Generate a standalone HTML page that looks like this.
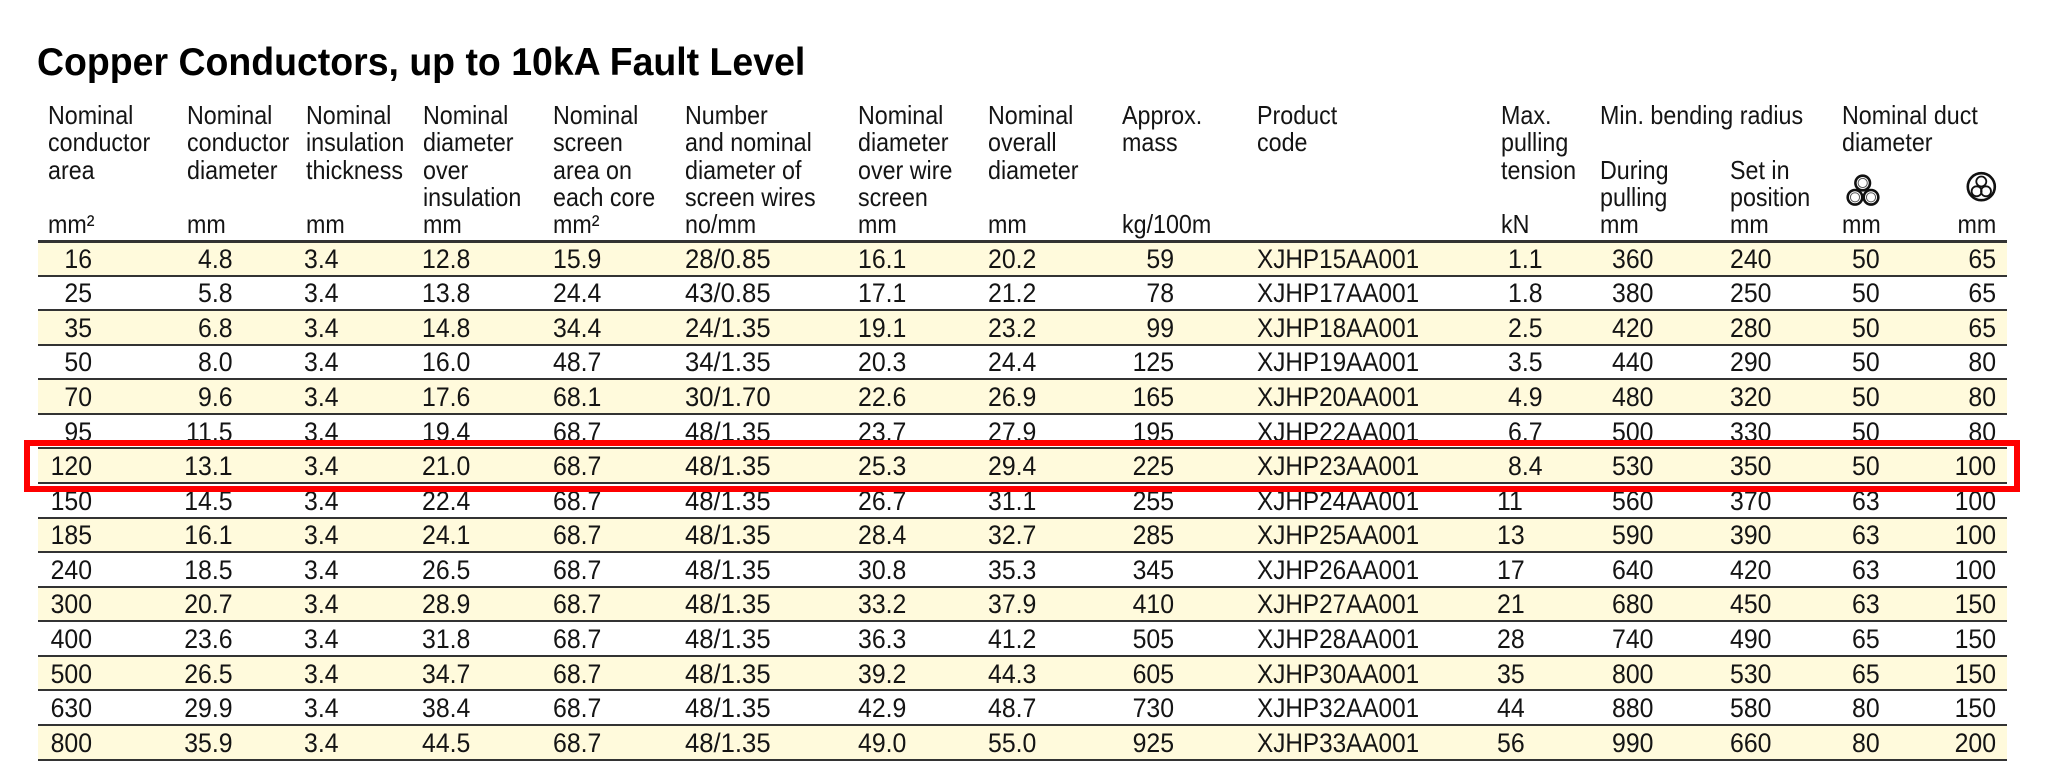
<!DOCTYPE html>
<html>
<head>
<meta charset="utf-8">
<style>
html,body{margin:0;padding:0;background:#fff;}
body{width:2048px;height:782px;position:relative;overflow:hidden;font-family:"Liberation Sans",Arial,sans-serif;color:#141414;}
.title{position:absolute;left:37px;top:42.5px;font-size:39px;line-height:39px;font-weight:bold;color:#000;white-space:nowrap;transform:scaleX(.96);transform-origin:0 0;}
.h{position:absolute;top:102.4px;font-size:26px;line-height:27.1px;white-space:nowrap;transform:scaleX(.895);transform-origin:0 0;}
.hr{transform-origin:100% 0;}
.r{position:absolute;left:0;width:2048px;height:34.57px;}
.y{background:linear-gradient(to right,transparent 38px,#fffadc 38px,#fffadc 2007px,transparent 2007px);}
.r span{position:absolute;top:4.8px;font-size:27px;line-height:27px;white-space:nowrap;transform:scaleX(.92);transform-origin:0 0;}
.r span:nth-child(1){right:1956px;transform-origin:100% 0;}
.r span:nth-child(2){right:1815px;transform-origin:100% 0;}
.r span:nth-child(3){left:304px;}
.r span:nth-child(4){left:422px;}
.r span:nth-child(5){left:553px;}
.r span:nth-child(6){left:685px;transform:scaleX(.95);}
.r span:nth-child(7){left:858px;}
.r span:nth-child(8){left:988px;}
.r span:nth-child(9){right:874px;transform-origin:100% 0;}
.r span:nth-child(10){left:1257px;transform:scaleX(.9);}
.r span:nth-child(11){left:1508px;}
.r span.i{left:1497px;}
.r span:nth-child(12){left:1612px;}
.r span:nth-child(13){left:1730px;}
.r span:nth-child(14){left:1852px;}
.r span:nth-child(15){right:52px;transform-origin:100% 0;}
.l{position:absolute;left:38px;width:1969px;height:2px;background:#333;}
.red{position:absolute;left:24px;top:440px;width:1996px;height:52px;border:6px solid #fe0000;box-sizing:border-box;z-index:5;}
svg{position:absolute;left:0;top:0;}
</style>
</head>
<body>
<div class="title">Copper Conductors, up to 10kA Fault Level</div>

<div class="h" style="left:48px">Nominal<br>conductor<br>area<br><br>mm²</div>
<div class="h" style="left:187px">Nominal<br>conductor<br>diameter<br><br>mm</div>
<div class="h" style="left:306px">Nominal<br>insulation<br>thickness<br><br>mm</div>
<div class="h" style="left:423px">Nominal<br>diameter<br>over<br>insulation<br>mm</div>
<div class="h" style="left:553px">Nominal<br>screen<br>area on<br>each core<br>mm²</div>
<div class="h" style="left:685px">Number<br>and nominal<br>diameter of<br>screen wires<br>no/mm</div>
<div class="h" style="left:858px">Nominal<br>diameter<br>over wire<br>screen<br>mm</div>
<div class="h" style="left:988px">Nominal<br>overall<br>diameter<br><br>mm</div>
<div class="h" style="left:1122px">Approx.<br>mass<br><br><br>kg/100m</div>
<div class="h" style="left:1257px">Product<br>code</div>
<div class="h" style="left:1501px">Max.<br>pulling<br>tension<br><br>kN</div>
<div class="h" style="left:1600px">Min. bending radius<br><br>During<br>pulling<br>mm</div>
<div class="h" style="left:1730px"><br><br>Set in<br>position<br>mm</div>
<div class="h" style="left:1842px">Nominal duct<br>diameter<br><br><br>mm</div>
<div class="h hr" style="right:52px;text-align:right"><br><br><br><br>mm</div>

<svg width="2048" height="782" viewBox="0 0 2048 782">
  <g fill="#fff" stroke="#111">
    <circle cx="1862.7" cy="183" r="7.3" stroke-width="2.6"/>
    <circle cx="1862.7" cy="183" r="4.6" stroke-width="1" fill="none" stroke="#555"/>
    <circle cx="1855" cy="197.3" r="7.3" stroke-width="2.6"/>
    <circle cx="1855" cy="197.3" r="4.6" stroke-width="1" fill="none" stroke="#555"/>
    <circle cx="1871" cy="197.3" r="7.3" stroke-width="2.6"/>
    <circle cx="1871" cy="197.3" r="4.6" stroke-width="1" fill="none" stroke="#555"/>
  </g>
  <g fill="none" stroke="#111">
    <circle cx="1981.3" cy="186.7" r="13.5" stroke-width="2.6"/>
    <circle cx="1981.3" cy="181.5" r="5" stroke-width="1.8"/>
    <circle cx="1976.6" cy="191.3" r="5" stroke-width="1.8"/>
    <circle cx="1986" cy="191.3" r="5" stroke-width="1.8"/>
  </g>
</svg>

<div class="r y" style="top:241px"><span>16</span><span>4.8</span><span>3.4</span><span>12.8</span><span>15.9</span><span>28/0.85</span><span>16.1</span><span>20.2</span><span>59</span><span>XJHP15AA001</span><span>1.1</span><span>360</span><span>240</span><span>50</span><span>65</span></div>
<div class="r" style="top:275.6px"><span>25</span><span>5.8</span><span>3.4</span><span>13.8</span><span>24.4</span><span>43/0.85</span><span>17.1</span><span>21.2</span><span>78</span><span>XJHP17AA001</span><span>1.8</span><span>380</span><span>250</span><span>50</span><span>65</span></div>
<div class="r y" style="top:310.1px"><span>35</span><span>6.8</span><span>3.4</span><span>14.8</span><span>34.4</span><span>24/1.35</span><span>19.1</span><span>23.2</span><span>99</span><span>XJHP18AA001</span><span>2.5</span><span>420</span><span>280</span><span>50</span><span>65</span></div>
<div class="r" style="top:344.7px"><span>50</span><span>8.0</span><span>3.4</span><span>16.0</span><span>48.7</span><span>34/1.35</span><span>20.3</span><span>24.4</span><span>125</span><span>XJHP19AA001</span><span>3.5</span><span>440</span><span>290</span><span>50</span><span>80</span></div>
<div class="r y" style="top:379.3px"><span>70</span><span>9.6</span><span>3.4</span><span>17.6</span><span>68.1</span><span>30/1.70</span><span>22.6</span><span>26.9</span><span>165</span><span>XJHP20AA001</span><span>4.9</span><span>480</span><span>320</span><span>50</span><span>80</span></div>
<div class="r" style="top:413.9px"><span>95</span><span>11.5</span><span>3.4</span><span>19.4</span><span>68.7</span><span>48/1.35</span><span>23.7</span><span>27.9</span><span>195</span><span>XJHP22AA001</span><span>6.7</span><span>500</span><span>330</span><span>50</span><span>80</span></div>
<div class="r y" style="top:448.4px"><span>120</span><span>13.1</span><span>3.4</span><span>21.0</span><span>68.7</span><span>48/1.35</span><span>25.3</span><span>29.4</span><span>225</span><span>XJHP23AA001</span><span>8.4</span><span>530</span><span>350</span><span>50</span><span>100</span></div>
<div class="r" style="top:483px"><span>150</span><span>14.5</span><span>3.4</span><span>22.4</span><span>68.7</span><span>48/1.35</span><span>26.7</span><span>31.1</span><span>255</span><span>XJHP24AA001</span><span class="i">11</span><span>560</span><span>370</span><span>63</span><span>100</span></div>
<div class="r y" style="top:517.6px"><span>185</span><span>16.1</span><span>3.4</span><span>24.1</span><span>68.7</span><span>48/1.35</span><span>28.4</span><span>32.7</span><span>285</span><span>XJHP25AA001</span><span class="i">13</span><span>590</span><span>390</span><span>63</span><span>100</span></div>
<div class="r" style="top:552.1px"><span>240</span><span>18.5</span><span>3.4</span><span>26.5</span><span>68.7</span><span>48/1.35</span><span>30.8</span><span>35.3</span><span>345</span><span>XJHP26AA001</span><span class="i">17</span><span>640</span><span>420</span><span>63</span><span>100</span></div>
<div class="r y" style="top:586.7px"><span>300</span><span>20.7</span><span>3.4</span><span>28.9</span><span>68.7</span><span>48/1.35</span><span>33.2</span><span>37.9</span><span>410</span><span>XJHP27AA001</span><span class="i">21</span><span>680</span><span>450</span><span>63</span><span>150</span></div>
<div class="r" style="top:621.3px"><span>400</span><span>23.6</span><span>3.4</span><span>31.8</span><span>68.7</span><span>48/1.35</span><span>36.3</span><span>41.2</span><span>505</span><span>XJHP28AA001</span><span class="i">28</span><span>740</span><span>490</span><span>65</span><span>150</span></div>
<div class="r y" style="top:655.9px"><span>500</span><span>26.5</span><span>3.4</span><span>34.7</span><span>68.7</span><span>48/1.35</span><span>39.2</span><span>44.3</span><span>605</span><span>XJHP30AA001</span><span class="i">35</span><span>800</span><span>530</span><span>65</span><span>150</span></div>
<div class="r" style="top:690.4px"><span>630</span><span>29.9</span><span>3.4</span><span>38.4</span><span>68.7</span><span>48/1.35</span><span>42.9</span><span>48.7</span><span>730</span><span>XJHP32AA001</span><span class="i">44</span><span>880</span><span>580</span><span>80</span><span>150</span></div>
<div class="r y" style="top:725px"><span>800</span><span>35.9</span><span>3.4</span><span>44.5</span><span>68.7</span><span>48/1.35</span><span>49.0</span><span>55.0</span><span>925</span><span>XJHP33AA001</span><span class="i">56</span><span>990</span><span>660</span><span>80</span><span>200</span></div>

<div class="l" style="top:240px;height:2.5px"></div>
<div class="l" style="top:274.6px"></div>
<div class="l" style="top:309.1px"></div>
<div class="l" style="top:343.7px"></div>
<div class="l" style="top:378.3px"></div>
<div class="l" style="top:412.9px"></div>
<div class="l" style="top:447.4px"></div>
<div class="l" style="top:482px"></div>
<div class="l" style="top:516.6px"></div>
<div class="l" style="top:551.1px"></div>
<div class="l" style="top:585.7px"></div>
<div class="l" style="top:620.3px"></div>
<div class="l" style="top:654.9px"></div>
<div class="l" style="top:689.4px"></div>
<div class="l" style="top:724px"></div>
<div class="l" style="top:758.6px"></div>

<div class="red"></div>
</body>
</html>
